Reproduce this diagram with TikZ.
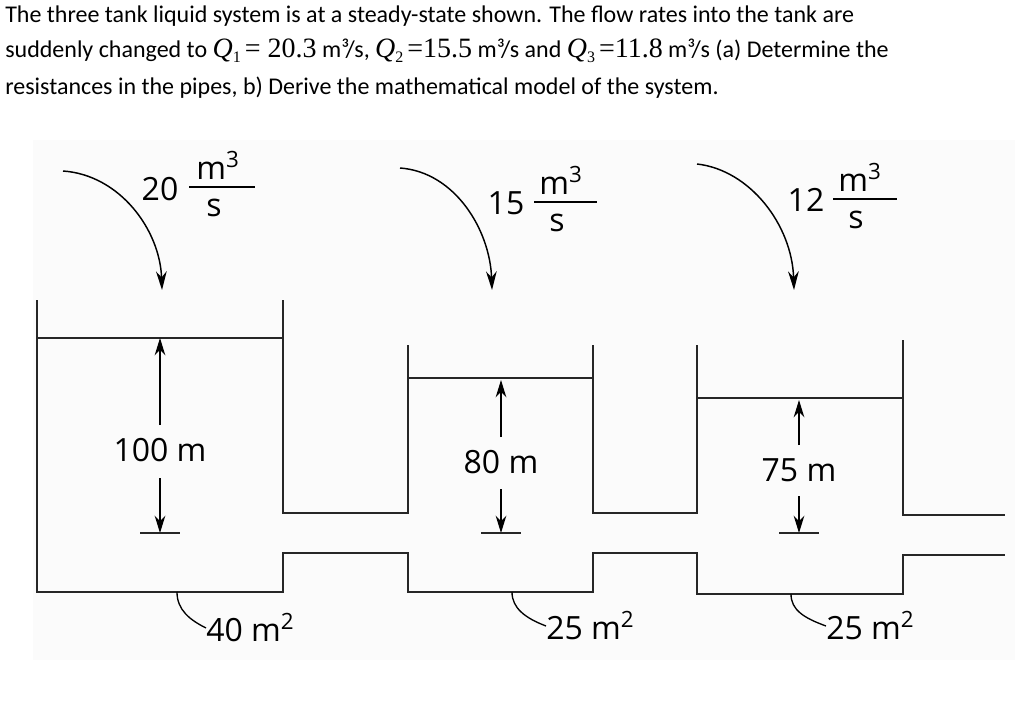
\documentclass[tikz,border=0pt]{standalone}
\usepackage{fontspec}
\setmainfont{Carlito}
\newfontfamily\lab{Open Sans}
\newfontfamily\tms{Liberation Serif}
\usetikzlibrary{arrows.meta}
\newcommand{\qq}[2]{{\tms\fontsize{21}{22}\selectfont\itshape Q\/}\raisebox{-4pt}{\tms\fontsize{12}{12}\selectfont #1}\,{\tms\fontsize{21}{22}\selectfont #2}}
\begin{document}
\begin{tikzpicture}[x=0.75pt,y=-0.75pt,
  wall/.style={line width=1.5pt,draw=black!85},
  dim/.style={line width=1pt,-{Stealth[length=13pt,width=8pt]}},
  flow/.style={line width=1.1pt,-{Stealth[length=14pt,width=8pt]}},
  lbl/.style={font=\lab\fontsize{24}{28}\selectfont,inner sep=0pt},
  hdr/.style={font=\fontsize{18}{20}\selectfont,anchor=west,inner sep=0pt}]
\useasboundingbox (0,0) rectangle (1024,703);
\fill[gray!3] (33,140) rectangle (1015,660);
\node[hdr] (h1) at (5,16) {The three tank liquid system is at a steady-state shown. The flow rates into the tank are};
\node[hdr] (h2) at (5,51) {suddenly changed to \qq{1}{= 20.3} m³/s, \qq{2}{=15.5} m³/s and \qq{3}{=11.8} m³/s (a) Determine the};
\node[hdr] (h3) at (5,88) {resistances in the pipes, b) Derive the mathematical model of the system.};
% tanks and pipes
\draw[wall] (37,300) -- (37,592) -- (283,592) -- (283,553) -- (408,553) -- (408,592) -- (593,592) -- (593,553) -- (697,553) -- (697,594) -- (903,594) -- (903,555) -- (1005,555);
\draw[wall] (283,300) -- (283,513) -- (408,513) -- (408,345);
\draw[wall] (593,345) -- (593,513) -- (697,513) -- (697,345);
\draw[wall] (903,340) -- (903,515) -- (1005,515);
% levels
\draw[wall] (37,338) -- (283,338);
\draw[wall] (408,378) -- (593,378);
\draw[wall] (697,398) -- (903,398);
% dimension arrows
\coordinate (a1) at (160,425); \coordinate (b1) at (160,338);
\coordinate (c1) at (160,478); \coordinate (d1) at (160,533);
\draw[dim] (a1) -- (b1); \draw[dim] (c1) -- (d1);
\draw[wall] (140,533) -- (180,533);
\node[lbl] (t1) at (160,450) {100 m};
\coordinate (a2) at (501,437); \coordinate (b2) at (501,380);
\coordinate (c2) at (501,489); \coordinate (d2) at (501,533);
\draw[dim] (a2) -- (b2); \draw[dim] (c2) -- (d2);
\draw[wall] (481,533) -- (521,533);
\node[lbl] (t2) at (501,462) {80 m};
\coordinate (a3) at (799,445); \coordinate (b3) at (799,400);
\coordinate (c3) at (799,496); \coordinate (d3) at (799,533);
\draw[dim] (a3) -- (b3); \draw[dim] (c3) -- (d3);
\draw[wall] (779,533) -- (819,533);
\node[lbl] (t3) at (799,470) {75 m};
% inflows
\coordinate (f1a) at (63,171); \coordinate (f1b) at (162,290);
\draw[flow] (f1a) .. controls (120,175) and (160,230) .. (f1b);
\coordinate (f2a) at (400,168); \coordinate (f2b) at (492,290);
\draw[flow] (f2a) .. controls (455,172) and (490,230) .. (f2b);
\coordinate (f3a) at (697,164); \coordinate (f3b) at (794,290);
\draw[flow] (f3a) .. controls (750,170) and (792,225) .. (f3b);
% flow labels: number, m^3 over bar over s
\node[lbl] (q1) at (160,189) {20};
\node[lbl] (n1) at (218,165) {m\textsuperscript{3}};
\node[lbl] (s1) at (214,208) {s};
\draw[line width=1pt] (189,187) -- (255,187);
\node[lbl] (q2) at (506,203) {15};
\node[lbl] (n2) at (561,180) {m\textsuperscript{3}};
\node[lbl] (s2) at (557,223) {s};
\draw[line width=1pt] (534,202) -- (597,202);
\node[lbl] (q3) at (806,200) {12};
\node[lbl] (n3) at (860,177) {m\textsuperscript{3}};
\node[lbl] (s3) at (856,220) {s};
\draw[line width=1pt] (833,199) -- (897,199);
% areas
\node[lbl,anchor=west] (r1) at (206,628) {40 m\textsuperscript{2}};
\draw[line width=1pt] (177,592) .. controls (177,610) and (190,620) .. (r1.west);
\node[lbl,anchor=west] (r2) at (546,626) {25 m\textsuperscript{2}};
\draw[line width=1pt] (512,592) .. controls (512,608) and (525,618) .. (r2.west);
\node[lbl,anchor=west] (r3) at (826,626) {25 m\textsuperscript{2}};
\draw[line width=1pt] (791,594) .. controls (791,610) and (804,618) .. (r3.west);
\end{tikzpicture}
\end{document}
